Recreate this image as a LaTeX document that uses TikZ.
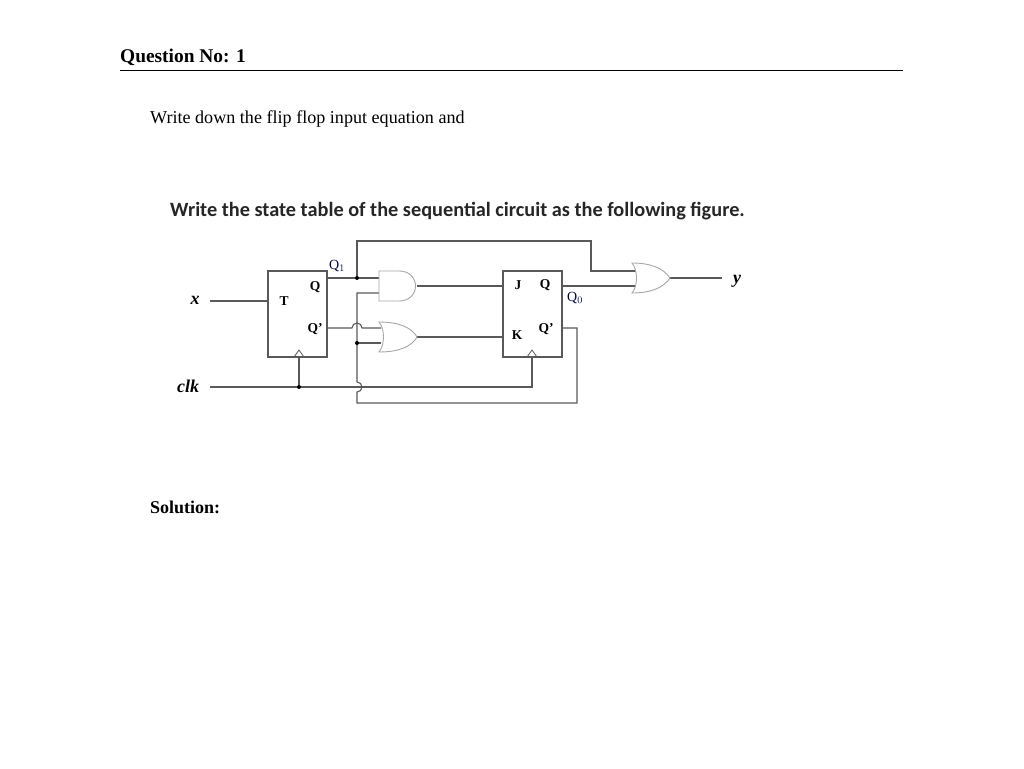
\documentclass[tikz,border=0pt]{standalone}
\usepackage{fontspec}
\setmainfont{Liberation Serif}
\newfontfamily\calib{Carlito}
\begin{document}
\begin{tikzpicture}[x=1pt,y=-1pt,
  wire/.style={draw=black!65,line width=1.1pt},
  gate/.style={draw=black!35,line width=0.9pt,fill=white},
  lbl/.style={inner sep=0pt,font=\fontsize{13.5}{13.5}\selectfont\bfseries},
  dot/.style={circle,fill=black,inner sep=0pt,minimum size=4pt}]
\useasboundingbox (0,0) rectangle (1024,768);
\node[anchor=base west,inner sep=0pt,font=\fontsize{19.4}{19.4}\selectfont\bfseries] (title) at (120,63) {Question No: 1};
\draw[line width=1pt] (120,70) -- (903,70);
\node[anchor=base west,inner sep=0pt,font=\fontsize{18.1}{18.1}\selectfont] (t1) at (150,123) {Write down the flip flop input equation and};
\node[anchor=base west,inner sep=0pt,font=\calib\fontsize{20.3}{20.3}\selectfont\bfseries,text=black!85] (t2) at (170,216) {Write the state table of the sequential circuit as the following figure.};
\node[anchor=base west,inner sep=0pt,font=\fontsize{18}{18}\selectfont\bfseries] (sol) at (150,513) {Solution:};
% flip flops
\draw[wire] (268,271) rectangle (327,357);
\draw[wire] (503,271) rectangle (562,357);
\draw[wire,line width=0.8pt] (294,357) -- (299,350) -- (304,357);
\draw[wire,line width=0.8pt] (527,357) -- (532,350) -- (537,357);
\node[lbl] (T) at (284,301) {T};
\node[lbl] (Q) at (315,287) {Q};
\node[lbl] (Qp) at (315,329) {Q'};
\node[lbl] (J) at (518,285) {J};
\node[lbl] (Q2) at (545,285) {Q};
\node[lbl] (K) at (517,335) {K};
\node[lbl] (Qp2) at (546,329) {Q'};
\node[inner sep=0pt,font=\fontsize{14}{14}\selectfont,text=black!75!blue] (Q1) at (337,266) {Q$_1$};
\node[inner sep=0pt,font=\fontsize{14}{14}\selectfont,text=black!75!blue] (Q0) at (575,298) {Q$_0$};
\node[inner sep=0pt,font=\fontsize{18}{18}\selectfont\itshape\bfseries] (x) at (195,300) {x};
\node[inner sep=0pt,font=\fontsize{18}{18}\selectfont\itshape\bfseries] (clk) at (188,386) {clk};
\node[inner sep=0pt,font=\fontsize{18}{18}\selectfont\itshape\bfseries] (y) at (737,281) {y};
% wires
\draw[wire] (210,301) -- (268,301);
\draw[wire] (327,278) -- (379,278);
\draw[wire] (357,278) -- (357,241) -- (591,241) -- (591,271) -- (636,271);
\draw[wire] (562,286) -- (636,286);
\draw[wire] (668,278) -- (722,278);
\draw[wire] (417,286) -- (503,286);
\draw[wire] (416,337) -- (503,337);
\draw[wire] (327,328) -- (352,328) arc[start angle=180,end angle=360,radius=5] -- (381,328);
\draw[wire] (379,293) -- (357,293) -- (357,382) arc[start angle=-90,end angle=90,radius=5] -- (357,403) -- (577,403) -- (577,328) -- (562,328);
\draw[wire] (357,343) -- (381,343);
\draw[wire] (210,387) -- (532,387) -- (532,357);
\draw[wire] (299,387) -- (299,357);
\node[dot] (d1) at (357,278) {};
\node[dot] (d2) at (357,343) {};
\node[dot] (d3) at (299,387) {};
% gates
\draw[gate] (379,271) -- (399,271) .. controls (421,271) and (421,301) .. (399,301) -- (379,301) -- cycle;
\draw[gate] (379,322) .. controls (400,322) and (412,328) .. (417,337) .. controls (412,346) and (400,352) .. (379,352) .. controls (385,345) and (385,329) .. (379,322) -- cycle;
\draw[gate] (632,263) .. controls (652,263) and (664,269) .. (670,278) .. controls (664,287) and (652,293) .. (632,293) .. controls (638,286) and (638,270) .. (632,263) -- cycle;
\end{tikzpicture}
\end{document}
